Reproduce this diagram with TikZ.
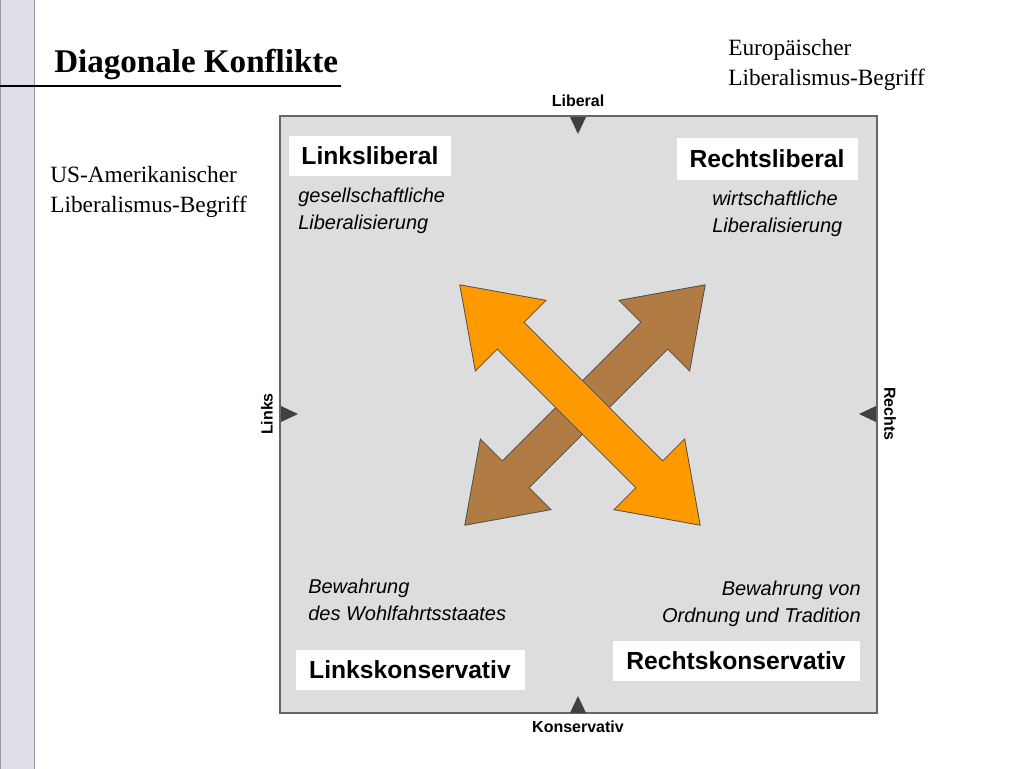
\documentclass[tikz,border=0pt]{standalone}
\usepackage{fontspec}
\setmainfont{Liberation Serif}
\setsansfont{Liberation Sans}
\begin{document}
\begin{tikzpicture}[x=0.75pt,y=-0.75pt,
  lbl/.style={font=\sffamily\bfseries\fontsize{12}{13}\selectfont,inner sep=0},
  wbox/.style={fill=white,inner sep=0,font=\sffamily\bfseries\fontsize{18.5}{20}\selectfont},
  itxt/.style={font=\sffamily\itshape\fontsize{15}{20}\selectfont,align=left,inner sep=0,anchor=north west},
  stxt/.style={font=\fontsize{17.5}{22.5}\selectfont,align=left,inner sep=0,anchor=north west},
  tri/.style={fill=black!75}]
\useasboundingbox (0,0) rectangle (1024,768);
\fill[white] (0,0) rectangle (1024,768);
\draw[fill={rgb,255:red,222;green,222;blue,232},draw=black!40] (0,-1) rectangle (34,769);
\node[anchor=base west,inner sep=0,font=\bfseries\fontsize{24.8}{28}\selectfont] (title) at (54,72) {Diagonale Konflikte};
\draw[line width=1.2pt] (0,86) -- (341,86);
\node[stxt] (eu) at (728,39) {Europäischer\\Liberalismus-Begriff};
\node[stxt] (us) at (50,166) {US-Amerikanischer\\Liberalismus-Begriff};
\draw[fill={rgb,255:red,221;green,221;blue,221},draw=black!60,line width=0.8pt] (280,116) rectangle (877,713);
\node[lbl] (lib) at (578,101) {Liberal};
\node[lbl] (kon) at (578,727) {Konservativ};
\node[lbl,rotate=90] (li) at (267,414) {Links};
\node[lbl,rotate=-90] (re) at (890,414) {Rechts};
\fill[tri] (570,117) -- (586,117) -- (578,134) -- cycle;
\fill[tri] (570,713) -- (586,713) -- (578,696) -- cycle;
\fill[tri] (281,406) -- (281,422) -- (298,414) -- cycle;
\fill[tri] (876,406) -- (876,422) -- (859,414) -- cycle;
\node[wbox,minimum width=162pt*0.75,minimum height=30] (ll) at (370,156) {Linksliberal};
\node[wbox,minimum width=181pt*0.75,minimum height=31] (rl) at (767,159) {Rechtsliberal};
\node[wbox,minimum width=229pt*0.75,minimum height=30] (lk) at (410,670) {Linkskonservativ};
\node[wbox,minimum width=247pt*0.75,minimum height=30] (rk) at (736,661) {Rechtskonservativ};
\node[itxt] (t1) at (298,188) {gesellschaftliche\\Liberalisierung};
\node[itxt] (t2) at (712,191) {wirtschaftliche\\Liberalisierung};
\node[itxt] (t3) at (308,579) {Bewahrung\\des Wohlfahrtsstaates};
\node[itxt,align=right,anchor=north east] (t4) at (861,581) {Bewahrung von\\Ordnung und Tradition};
\def\darrow{(-170,0) -- (-98,50) -- (-98,19) -- (98,19) -- (98,50) -- (170,0) -- (98,-50) -- (98,-19) -- (-98,-19) -- (-98,-50) -- cycle}
\begin{scope}[shift={(585,405)},rotate=45]
\filldraw[fill={rgb,255:red,176;green,124;blue,68},draw=black!70,line width=0.6pt] \darrow;
\end{scope}
\begin{scope}[shift={(580,405)},rotate=-45]
\filldraw[fill={rgb,255:red,255;green,153;blue,0},draw=black!70,line width=0.6pt] \darrow;
\end{scope}
\end{tikzpicture}
\end{document}
